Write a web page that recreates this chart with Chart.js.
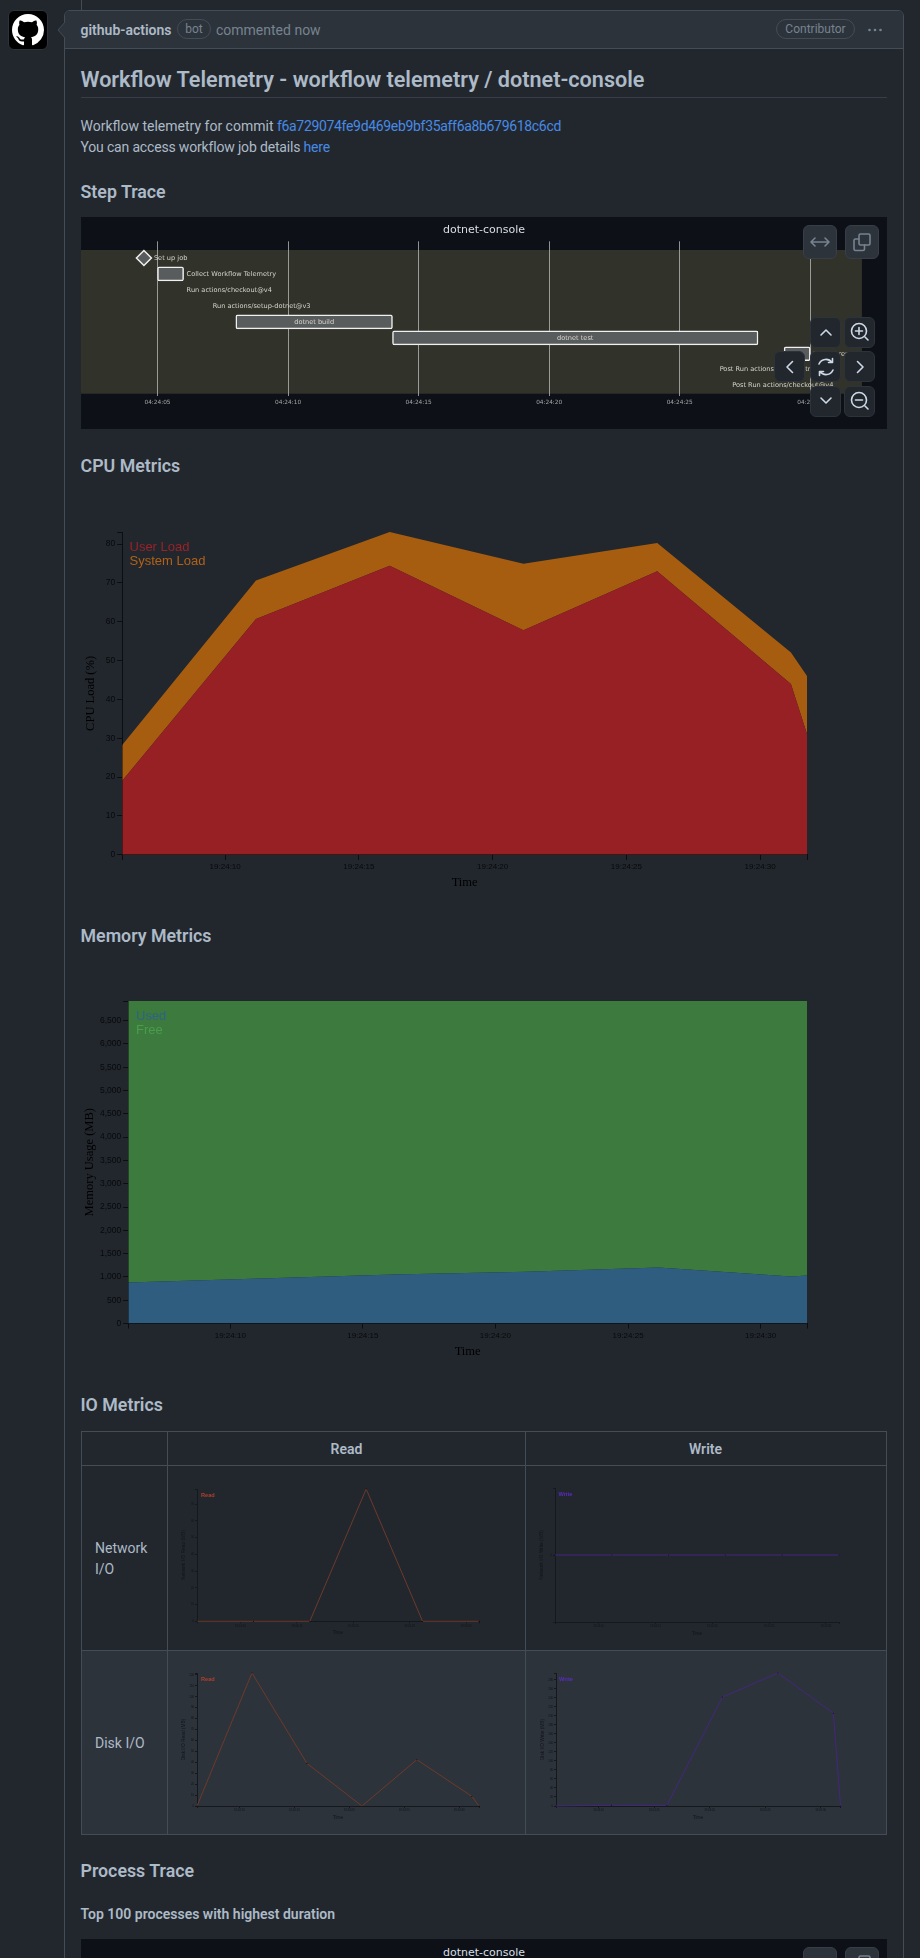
<!DOCTYPE html>
<html lang="en">
<head>
<meta charset="utf-8">
<title>Workflow Telemetry</title>
<script src="https://cdn.jsdelivr.net/npm/chart.js@4"></script>
<style>
html,body{margin:0;padding:0;background:#22272e;width:920px;height:1958px;overflow:hidden;font-family:Roboto,"Noto Sans",sans-serif;color:#adbac7;font-size:14px}
.abs{position:absolute;white-space:nowrap}
canvas{position:absolute;display:block}
a{color:#478be6;text-decoration:none}
.c{transform:translateY(-50%)}
.h{font-weight:600;font-size:17.8px}
.avatar{left:8px;top:9.5px;width:40px;height:40px;background:#000;border-radius:6px;border:1px solid #2d333b;box-sizing:border-box}
.box{left:64px;top:10px;width:840px;height:2000px;border:1px solid #444c56;border-radius:6px;box-sizing:border-box}
.head{left:65px;top:11px;width:838px;height:37px;background:#2d333b;border-bottom:1px solid #444c56;border-radius:5px 5px 0 0;box-sizing:content-box}
.pill{border:1px solid #444c56;border-radius:11px;height:20px;line-height:19px;text-align:center;font-size:12px;color:#768390;box-sizing:border-box}
.black{background:#0d1117}
.btn{box-sizing:border-box;width:31px;height:31px;background:#22272e;border:1px solid #2d333b;border-radius:6px;display:flex;align-items:center;justify-content:center}
.btn2{box-sizing:border-box;width:33.5px;height:34px;background:#2d333b;border:1px solid #373e47;border-radius:6px;display:flex;align-items:center;justify-content:center}
svg.i{fill:none;stroke:#cdd9e5;stroke-width:1.6;stroke-linecap:round;stroke-linejoin:round}
.ln{background:#444c56}
.leg{font-family:"Liberation Sans",Arial,sans-serif;font-size:13px;line-height:13px}
.mini{font-family:"Liberation Sans",Arial,sans-serif;font-size:5.6px;line-height:6px;font-weight:700}
</style>
</head>
<body>
<div class="abs ln" style="left:81px;top:0;width:1px;height:10px"></div>
<div class="abs avatar"><svg width="32" height="32" viewBox="0 0 16 16" style="position:absolute;left:3px;top:3px"><path fill="#fff" d="M8 0C3.58 0 0 3.58 0 8c0 3.54 2.29 6.53 5.47 7.59.4.07.55-.17.55-.38 0-.19-.01-.82-.01-1.49-2.01.37-2.53-.49-2.69-.94-.09-.23-.48-.94-.82-1.13-.28-.15-.68-.52-.01-.53.63-.01 1.08.58 1.23.82.72 1.21 1.87.87 2.33.66.07-.52.28-.87.51-1.07-1.78-.2-3.64-.89-3.64-3.95 0-.87.31-1.59.82-2.15-.08-.2-.36-1.02.08-2.12 0 0 .67-.21 2.2.82.64-.18 1.32-.27 2-.27.68 0 1.36.09 2 .27 1.53-1.04 2.2-.82 2.2-.82.44 1.1.16 1.92.08 2.12.51.56.82 1.27.82 2.15 0 3.07-1.87 3.75-3.65 3.95.29.25.54.73.54 1.48 0 1.07-.01 1.93-.01 2.2 0 .21.15.46.55.38A8.013 8.013 0 0016 8c0-4.42-3.58-8-8-8z"/></svg></div>
<div class="abs box"></div>
<div class="abs head"></div>
<svg class="abs" style="left:57px;top:22px" width="9" height="16" viewBox="0 0 9 16"><path d="M8 0 L1 8 L8 16" fill="#2d333b" stroke="#444c56"/></svg>
<div class="abs c" style="left:80.5px;top:29.5px;font-weight:600;color:#adbac7">github-actions</div>
<div class="abs pill" style="left:177px;top:19px;width:34px">bot</div>
<div class="abs c" style="left:216px;top:29.5px;color:#768390">commented now</div>
<div class="abs pill" style="left:776px;top:19px;width:79px">Contributor</div>
<svg class="abs" style="left:867px;top:26px" width="16" height="8"><g fill="#768390"><circle cx="2.5" cy="4" r="1.3"/><circle cx="8" cy="4" r="1.3"/><circle cx="13.5" cy="4" r="1.3"/></g></svg>

<div class="abs c" style="left:80.5px;top:78.5px;font-size:21.6px;font-weight:600">Workflow Telemetry - workflow telemetry / dotnet-console</div>
<div class="abs ln" style="left:81px;top:97px;width:806px;height:1px;background:#373e47"></div>
<div class="abs c" style="left:80.5px;top:125.5px">Workflow telemetry for commit <a style="letter-spacing:-.32px">f6a729074fe9d469eb9bf35aff6a8b679618c6cd</a></div>
<div class="abs c" style="left:80.5px;top:146.5px;letter-spacing:-.17px">You can access workflow job details <a>here</a></div>

<div class="abs c h" style="left:80.5px;top:190.8px">Step Trace</div>
<div class="abs black" style="left:81px;top:217px;width:806px;height:212px"></div>
<canvas id="stepChart"></canvas>
<div class="abs btn2" style="left:803px;top:225px"><svg class="i" width="24" height="16" viewBox="0 0 24 16" style="stroke:#768390"><path d="M3 8H21M7 4 3 8l4 4M17 4l4 4-4 4"/></svg></div>
<div class="abs btn2" style="left:845px;top:225px"><svg class="i" width="22" height="22" viewBox="0 0 22 22" style="stroke:#768390"><rect x="8" y="3" width="11" height="11" rx="1.5"/><path d="M8 8H4.5A1.5 1.5 0 0 0 3 9.500V18a1.500 1.500 0 0 0 1.500 1.500H12a1.500 1.500 0 0 0 1.500-1.500v-4"/></svg></div>
<div class="abs btn" style="left:810px;top:316.500px"><svg class="i" width="16" height="16" viewBox="0 0 16 16"><path d="M3 11l5-5 5 5"/></svg></div>
<div class="abs btn" style="left:844px;top:316.500px"><svg class="i" width="22" height="22" viewBox="0 0 22 22"><circle cx="10" cy="10" r="7.500"/><path d="M10 6.500v7M6.500 10h7M16 16l3 3"/></svg></div>
<div class="abs btn" style="left:774px;top:351px"><svg class="i" width="16" height="16" viewBox="0 0 16 16"><path d="M10.500 2.500 5 8l5.500 5.500"/></svg></div>
<div class="abs btn" style="left:810px;top:351px"><svg class="i" width="22" height="22" viewBox="0 0 22 22"><path d="M4 8a7.500 7.500 0 0 1 13-1.500M18 14a7.500 7.500 0 0 1-13 1.500M17.500 2.500v4h-4M4.500 19.500v-4h4"/></svg></div>
<div class="abs btn" style="left:844px;top:351px"><svg class="i" width="16" height="16" viewBox="0 0 16 16"><path d="M5.500 2.500 11 8l-5.500 5.500"/></svg></div>
<div class="abs btn" style="left:810px;top:385.500px"><svg class="i" width="16" height="16" viewBox="0 0 16 16"><path d="M3 5l5 5 5-5"/></svg></div>
<div class="abs btn" style="left:844px;top:385.500px"><svg class="i" width="22" height="22" viewBox="0 0 22 22"><circle cx="10" cy="10" r="7.500"/><path d="M6.500 10h7M16 16l3 3"/></svg></div>

<div class="abs c h" style="left:80.5px;top:464.8px">CPU Metrics</div>
<canvas id="cpuChart"></canvas>
<div class="abs c leg" style="left:129.500px;top:546px;color:#9a2229">User Load</div>
<div class="abs c leg" style="left:129.500px;top:559.500px;color:#b0611a">System Load</div>

<div class="abs c h" style="left:80.5px;top:934.8px">Memory Metrics</div>
<canvas id="memChart"></canvas>
<div class="abs c leg" style="left:136px;top:1015px;color:#2f6285">Used</div>
<div class="abs c leg" style="left:136px;top:1028.500px;color:#4a9d4c">Free</div>

<div class="abs c h" style="left:80.5px;top:1404px">IO Metrics</div>
<div class="abs" style="left:81px;top:1650px;width:806px;height:184px;background:#2d333b"></div>
<div class="abs ln" style="left:81px;top:1431px;width:806px;height:1px"></div>
<div class="abs ln" style="left:81px;top:1465px;width:806px;height:1px"></div>
<div class="abs ln" style="left:81px;top:1650px;width:806px;height:1px"></div>
<div class="abs ln" style="left:81px;top:1834px;width:806px;height:1px"></div>
<div class="abs ln" style="left:81px;top:1431px;width:1px;height:404px"></div>
<div class="abs ln" style="left:167px;top:1431px;width:1px;height:404px"></div>
<div class="abs ln" style="left:525px;top:1431px;width:1px;height:404px"></div>
<div class="abs ln" style="left:886px;top:1431px;width:1px;height:404px"></div>
<div class="abs c" style="left:346.500px;top:1449px;font-weight:600;transform:translate(-50%,-50%)">Read</div>
<div class="abs c" style="left:705.500px;top:1449px;font-weight:600;transform:translate(-50%,-50%)">Write</div>
<div class="abs c" style="left:95px;top:1548px">Network</div>
<div class="abs c" style="left:95px;top:1569px">I/O</div>
<div class="abs c" style="left:95px;top:1743px">Disk I/O</div>
<canvas id="netReadChart"></canvas>
<canvas id="netWriteChart"></canvas>
<canvas id="diskReadChart"></canvas>
<canvas id="diskWriteChart"></canvas>
<div class="abs c mini" style="left:201px;top:1495px;color:#b0402c">Read</div>
<div class="abs c mini" style="left:558.500px;top:1494px;color:#5a2bc0">Write</div>
<div class="abs c mini" style="left:201px;top:1679px;color:#b0402c">Read</div>
<div class="abs c mini" style="left:559px;top:1679px;color:#5a2bc0">Write</div>

<div class="abs c h" style="left:80.5px;top:1870.3px">Process Trace</div>
<div class="abs c" style="left:80.5px;top:1914px;font-weight:600">Top 100 processes with highest duration</div>
<div class="abs black" style="left:81px;top:1939px;width:806px;height:19px"></div>
<div class="abs c" style="left:484px;top:1951.500px;transform:translate(-50%,-50%);font-family:'DejaVu Sans',sans-serif;font-size:11px;color:#d8dee4">dotnet-console</div>
<div class="abs btn2" style="left:803px;top:1947px"></div>
<div class="abs btn2" style="left:845px;top:1947px"><svg class="i" width="22" height="22" viewBox="0 0 22 22" style="stroke:#768390"><rect x="8" y="3" width="11" height="11" rx="1.5"/></svg></div>

<script>
// ---- Step trace ----
const stepNames = ["Set up job","Collect Workflow Telemetry","Run actions/checkout@v4","Run actions/setup-dotnet@v3","dotnet build","dotnet test","Upload results","Post Run actions/setup-dotnet@v3","Post Run actions/checkout@v4"];
const stepStart = [4.48,5,6,7,8,14,29,31,31];
const stepEnd   = [4.48,6,6,7,14,28,30,31,31];
const stepMilestones = [0];
const stepTickSeconds = [5,10,15,20,25,30];
const timeTickSeconds = [10,15,20,25,30];

// ---- CPU ----
const cpuSeconds = [6.15,11.15,16.15,21.15,26.15,31.15,31.75];
const cpuUser    = [19.05,60.7,74.4,57.8,73,44,31.1];
const cpuSystem  = [9.2,9.9,8.7,17.1,7.3,8.1,14.9];
const cpuTicks   = [0,10,20,30,40,50,60,70,80];

// ---- Memory ----
const memSeconds = [6.15,11.15,16.15,21.15,26.15,31.15,31.75];
const memUsed    = [880,966,1052,1110,1203,1009,1031];
const memFree    = [6042,5956,5870,5812,5719,5913,5891];
const memTicks   = [0,500,1000,1500,2000,2500,3000,3500,4000,4500,5000,5500,6000,6500];

// ---- IO ----
const netSeconds   = [6.15,11.15,16.15,21.15,26.15,31.15];
const netRead      = [0,0,0,79,0,0];
const netReadTicks = [0,10,20,30,40,50,60,70];
const netWrite     = [0,0,0,0,0,0];
const netWriteTicks= [0];
const diskSeconds  = [6.15,11.15,16.15,21.15,26.15,31.15,31.8];
const diskRead     = [0,121.8,39,0,42.4,8.9,0];
const diskReadTicks= [0,10,20,30,40,50,60,70,80,90,100,110,120];
const diskWrite    = [0,1.5,1.5,242,295.5,206,0];
const diskWriteTicks=[0,20,40,60,80,100,120,140,160,180,200,220,240,260,280];

Chart.defaults.animation = false;
Chart.defaults.devicePixelRatio = 1;
const pair = (xs, ys) => xs.map((x,i)=>({x, y:ys[i]}));
const clock = (h, s) => h + ':24:' + String(s).padStart(2,'0');

// place a canvas so that the plot rectangle lands exactly on the box [l,r]x[t,b]
function place(id, box){
  const c = document.getElementById(id);
  const w = box.r - box.l + box.L + (box.R||0), h = box.b - box.t + box.B + (box.T||0);
  c.width = Math.round(w); c.height = Math.round(h);
  c.style.width = c.width+'px'; c.style.height = c.height+'px';
  c.style.left = (box.l - box.L)+'px'; c.style.top = (box.t - (box.T||0))+'px';
  return c;
}
// ticks = the labelled values, plus the two unlabelled marks at the domain ends
const withEnds = (list, lo, hi) => [...new Set([lo, ...list, hi])].sort((a,b)=>a-b).map(value=>({value}));
function xyOptions(box, st){
  return {
    responsive:false, maintainAspectRatio:false,
    layout:{autoPadding:false,padding:{top:box.T||0,right:box.R||0,left:0,bottom:0}},
    plugins:{legend:{display:false},tooltip:{enabled:false}},
    elements:{point:{radius:0}},
    scales:{
      x:{type:'linear',min:st.xMin,max:st.xMax,
         afterFit:s=>{s.height=box.B;},
         afterBuildTicks:s=>{s.ticks=withEnds(timeTickSeconds,st.xMin,st.xMax);},
         border:{color:st.axis,width:st.axisW},
         grid:{drawOnChartArea:false,drawTicks:true,tickLength:st.tick,color:st.axis},
         title:{display:true,text:'Time',color:st.titleColor,padding:0,font:{family:st.titleFont,size:st.titleSize,weight:'normal'}},
         ticks:{autoSkip:false,maxRotation:0,padding:st.tickPad,color:st.tickColor,font:{family:'"Liberation Sans",Arial,sans-serif',size:st.xTickSize},
           callback:v=>timeTickSeconds.includes(v)?clock(19,v):''}},
      y:{type:'linear',min:st.yMin,max:st.yMax,stacked:!!st.stacked,
         afterFit:s=>{s.width=box.L;},
         afterBuildTicks:s=>{s.ticks=withEnds(st.yTicks,st.yMin,st.yMax);},
         border:{color:st.axis,width:st.axisW},
         grid:{drawOnChartArea:false,tickLength:st.tick,color:st.axis},
         title:{display:true,text:st.yTitle,color:st.titleColor,padding:0,font:{family:st.titleFont,size:st.titleSize,weight:'normal'}},
         ticks:{autoSkip:false,padding:st.tickPad,color:st.tickColor,font:{family:'"Liberation Sans",Arial,sans-serif',size:st.yTickSize},
           callback:v=>st.yTicks.includes(v)?v.toLocaleString('en-US'):''}}
    }
  };
}
const bigStyle = {axis:'#0b0d10',axisW:1,tick:5,tickPad:2,tickColor:'#07090b',titleColor:'#000',titleFont:'"Liberation Serif",serif',titleSize:12.5,xTickSize:8,yTickSize:8.5,stacked:true};
const miniStyle = {axis:'#15181c',axisW:1,tick:2,tickPad:1,tickColor:'#111418',titleColor:'#111418',titleFont:'"Liberation Sans",Arial,sans-serif',titleSize:4.8,xTickSize:2.8,yTickSize:2.8};

function area(id, box, st, series){
  new Chart(place(id,box),{type:'line',data:{datasets:series.map((d,i)=>({
      label:d.label,data:d.data,borderWidth:0,backgroundColor:d.color,borderColor:d.color,
      fill:i===0?'origin':'-1',tension:0,stack:'s'}))},options:xyOptions(box,{...bigStyle,...st})});
}
area('cpuChart',{l:121.7,r:806.8,t:532.3,b:855,L:39.2,B:35.2,T:8,R:8},
  {xMin:6.15,xMax:31.75,yMin:0,yMax:83.1,yTicks:cpuTicks,yTitle:'CPU Load (%)'},
  [{label:'User Load',data:pair(cpuSeconds,cpuUser),color:'#962023'},{label:'System Load',data:pair(cpuSeconds,cpuSystem),color:'#a75d10'}]);
area('memChart',{l:128.2,r:806.8,t:1001.3,b:1323.7,L:46.2,B:35.5,T:8,R:8},
  {xMin:6.15,xMax:31.75,yMin:0,yMax:6922,yTicks:memTicks,yTitle:'Memory Usage (MB)'},
  [{label:'Used',data:pair(memSeconds,memUsed),color:'#2f5d80'},{label:'Free',data:pair(memSeconds,memFree),color:'#3d7a3e'}]);

function mini(id, box, st, label, color, dot, data){
  new Chart(place(id,box),{type:'line',data:{datasets:[{label,data,borderColor:color,backgroundColor:dot,borderWidth:1,pointRadius:0.6,pointBorderWidth:0,tension:0,clip:false}]},
    options:xyOptions(box,{...miniStyle,...st})});
}
const READ='#6e3a2a', WRITE='#45267f', READ_DOT='#1a0d0a', WRITE_DOT='#1a0f33';
mini('netReadChart',{l:197.3,r:479,t:1489.3,b:1621.3,L:16,B:14.7,T:4,R:4},{xMin:6.15,xMax:31.15,yMin:0,yMax:79,yTicks:netReadTicks,yTitle:'Network I/O Read (MB)'},'Read',READ,READ_DOT,pair(netSeconds,netRead));
mini('netWriteChart',{l:555.3,r:839.7,t:1488.3,b:1622.3,L:16,B:15,T:4,R:4},{xMin:6.15,xMax:31.15,yMin:-1,yMax:1,yTicks:netWriteTicks,yTitle:'Network I/O Write (MB)'},'Write',WRITE,WRITE_DOT,pair(netSeconds,netWrite));
mini('diskReadChart',{l:197.3,r:479.5,t:1673.3,b:1806.3,L:16,B:15,T:4,R:4},{xMin:6.15,xMax:31.8,yMin:0,yMax:121.8,yTicks:diskReadTicks,yTitle:'Disk I/O Read (MB)'},'Read',READ,READ_DOT,pair(diskSeconds,diskRead));
mini('diskWriteChart',{l:555.7,r:839.7,t:1673.3,b:1806.3,L:16,B:15,T:4,R:4},{xMin:6.15,xMax:31.75,yMin:0,yMax:295.5,yTicks:diskWriteTicks,yTitle:'Disk I/O Write (MB)'},'Write',WRITE,WRITE_DOT,pair(diskSeconds,diskWrite));

// ---- Gantt ----
const ganttFont = '"DejaVu Sans",Verdana,sans-serif';
const BAND_END = 31.98;
const ganttPlugin = {
  id:'gantt',
  beforeDraw(ch){
    const {ctx,chartArea:a,scales:{x,y}} = ch;
    const top=y.getPixelForValue(-0.5), bot=y.getPixelForValue(stepNames.length-0.5);
    ctx.save(); ctx.fillStyle='#31322a'; ctx.fillRect(a.left,top,x.getPixelForValue(BAND_END)-a.left,bot-top); ctx.restore();
  },
  afterDatasetsDraw(ch){
    const {ctx,scales:{x,y}} = ch;
    const bandRight = x.getPixelForValue(BAND_END);
    ctx.save();
    ctx.font = '6.6px '+ganttFont; ctx.textBaseline='middle';
    stepNames.forEach((name,i)=>{
      const x0=x.getPixelForValue(stepStart[i]), x1=x.getPixelForValue(stepEnd[i]), py=y.getPixelForValue(i);
      const tw=ctx.measureText(name).width;
      if(tw < x1-x0){ ctx.textAlign='center'; ctx.fillStyle='#d6d6d0'; ctx.fillText(name,(x0+x1)/2,py); return; }
      ctx.fillStyle='#d4d5cb';
      const gap = stepMilestones.includes(i) ? 10 : 3;
      if(x1+gap+tw > bandRight+1){ ctx.textAlign='right'; ctx.fillText(name,x0-gap,py); }
      else { ctx.textAlign='left'; ctx.fillText(name,x1+gap,py); }
    });
    ctx.restore();
  }
};
{
  const box = {l:81,r:887,t:241,b:395.7,L:0,B:33.3,T:24.3,R:0};
  const barData = stepNames.map((n,i)=>({x:[stepStart[i],stepEnd[i]],y:i})).filter(d=>d.x[1]>d.x[0]);
  const msData = stepMilestones.map(i=>({x:stepStart[i],y:i}));
  new Chart(place('stepChart',box),{
    type:'bar',
    plugins:[ganttPlugin],
    data:{datasets:[
      {type:'bar',indexAxis:'y',label:'Steps',data:barData,barThickness:14,backgroundColor:'#585c5c',borderColor:'#f0f0f0',borderWidth:1.5,borderRadius:2,borderSkipped:false},
      {type:'scatter',label:'Milestones',data:msData,pointStyle:'rectRot',pointRadius:7.500,pointBackgroundColor:'#585c5c',pointBorderColor:'#f0f0f0',pointBorderWidth:1.5,clip:false}
    ]},
    options:{
      responsive:false,maintainAspectRatio:false,indexAxis:'y',
      layout:{autoPadding:false,padding:{top:0,right:0,left:0,bottom:0}},
      plugins:{legend:{display:false},tooltip:{enabled:false},
        title:{display:true,text:'dotnet-console',color:'#d8dee4',padding:{top:6.5,bottom:4.6},font:{family:ganttFont,size:11,weight:'normal'}}},
      scales:{
        x:{type:'linear',position:'bottom',min:2.07,max:32.94,
           afterFit:s=>{s.height=box.B;},
           afterBuildTicks:s=>{s.ticks=stepTickSeconds.map(value=>({value}));},
           border:{display:false},
           grid:{color:'#c8c8c8',lineWidth:0.7,tickLength:0,drawTicks:false},
           ticks:{autoSkip:false,maxRotation:0,padding:3,color:'#a3a7a8',font:{family:ganttFont,size:5.8},callback:v=>clock('04',v)}},
        y:{type:'linear',reverse:true,min:-1.044,max:8.625,display:false,offset:false,afterFit:s=>{s.width=0;}}
      }
    }
  });
}
</script>
</body>
</html>
